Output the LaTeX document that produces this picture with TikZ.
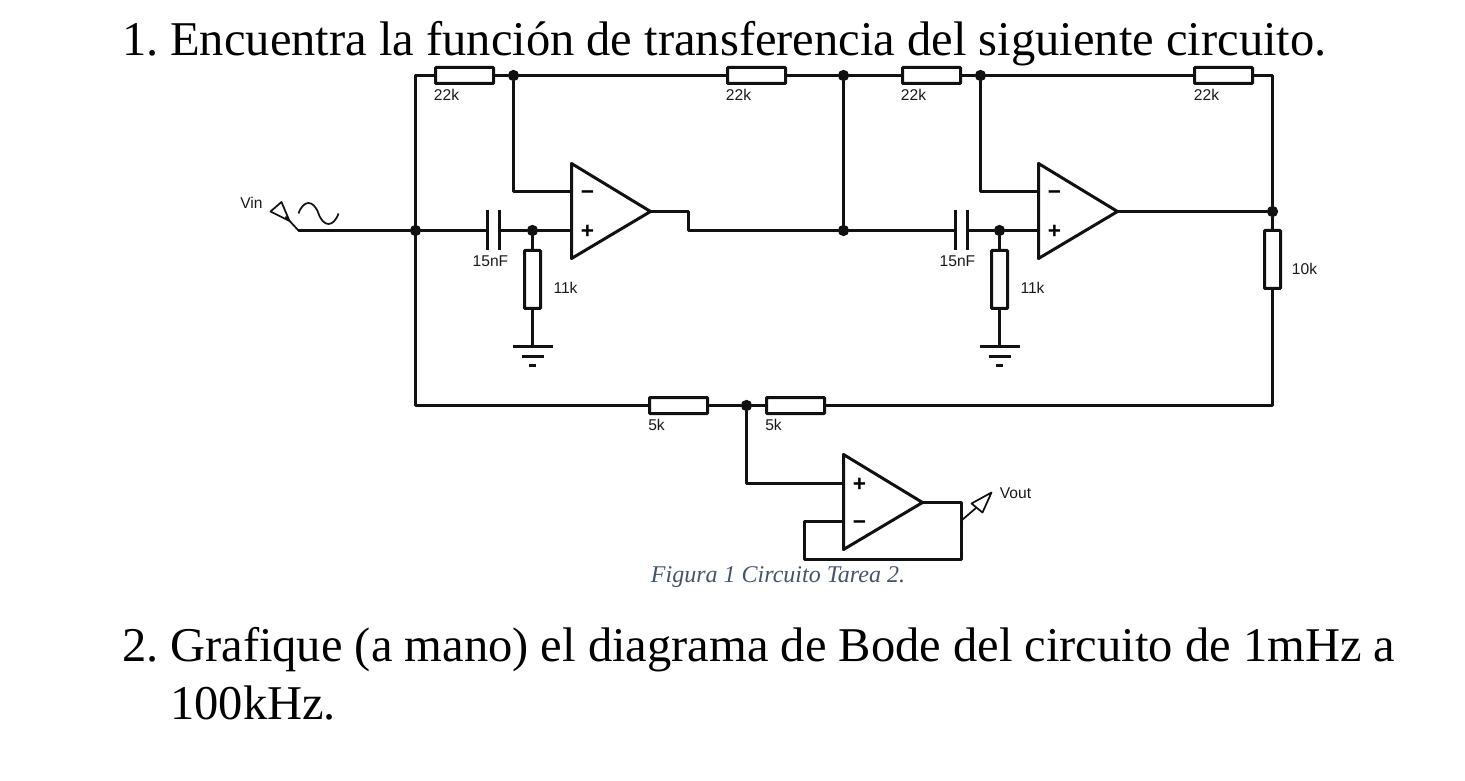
\documentclass[tikz,border=0pt]{standalone}
\usepackage{fontspec}
\setmainfont{Liberation Serif}
\newfontfamily\lab{Liberation Sans}
\definecolor{capcol}{HTML}{44546A}
\definecolor{wirecol}{HTML}{111111}
\tikzset{
  wire/.style={draw=wirecol,line width=2.25pt,line join=round,line cap=round},
  outline/.style={draw=wirecol,line width=2.25pt,line join=round},
  thinwire/.style={draw=wirecol,line width=1.3pt,line join=round},
  resh/.style={draw=wirecol,line width=2.25pt,fill=white,rounded corners=0.5pt,minimum width=43.5pt,minimum height=12pt,inner sep=0pt,outer sep=0pt},
  resv/.style={draw=wirecol,line width=2.25pt,fill=white,rounded corners=0.5pt,minimum width=12pt,minimum height=43.5pt,inner sep=0pt,outer sep=0pt},
  jct/.style={circle,fill=wirecol,minimum size=8.5pt,inner sep=0pt,outer sep=0pt},
  val/.style={font=\lab\fontsize{11.7pt}{13pt}\selectfont,text=black!90,inner sep=0pt},
  sign/.style={font=\lab\bfseries\fontsize{17pt}{18pt}\selectfont,inner sep=0pt},
  head/.style={anchor=base west,inner sep=0pt,font=\fontsize{36.4pt}{40pt}\selectfont,text=black},
  figcaption/.style={inner sep=0pt,font=\itshape\fontsize{18pt}{20pt}\selectfont,text=capcol},
}
\newcommand{\opampat}[3]{% name, left x, mid y
  \coordinate (#1t) at (#2,#3-48);
  \coordinate (#1b) at (#2,#3+47);
  \coordinate (#1o) at (#2+79,#3);
  \draw[outline] (#1t) -- (#1o) -- (#1b) -- cycle;
}
\newcommand{\gndat}[3]{% name, x, y
  \coordinate (#1) at (#2,#3);
  \draw[wire,line cap=butt] (#2-20,#3) -- (#2+20,#3);
  \draw[wire,line cap=butt] (#2-11,#3+10) -- (#2+11,#3+10);
  \draw[wire,line cap=butt] (#2-3.5,#3+19) -- (#2+3.5,#3+19);
}
\begin{document}
\begin{tikzpicture}[x=0.75pt,y=-0.75pt]
\useasboundingbox (0,0) rectangle (1465,781);
% text
\node[head] (l1) at (122,56) {\makebox[36pt][l]{1.}Encuentra la función de transferencia del siguiente circuito.};
\node[head] (l2) at (122,661) {\makebox[36pt][l]{2.}Grafique (a mano) el diagrama de Bode del circuito de 1mHz a};
\node[head] (l3) at (170,719) {100kHz.};
\node[figcaption] (figcap) at (778,577) {Figura 1 Circuito Tarea 2.};
\begin{scope}[shift={(0.5,0.5)}]
% corners and pins
\coordinate (tl) at (415,75);
\coordinate (tr) at (1272,75);
\coordinate (bl) at (415,405);
\coordinate (br) at (1272,405);
\coordinate (vinend) at (298,230);
\coordinate (s1) at (688,211);
\coordinate (s2) at (688,230);
\coordinate (in1m) at (571,191);
\coordinate (in1p) at (571,230);
\coordinate (in2m) at (1038,191);
\coordinate (in2p) at (1038,230);
\coordinate (in3p) at (843,483);
\coordinate (in3m) at (843,521);
\coordinate (k1) at (513,191);
\coordinate (k2) at (980,191);
\coordinate (k3) at (746,483);
\coordinate (b1) at (961,502);
\coordinate (b2) at (961,559);
\coordinate (b3) at (804,559);
\coordinate (b4) at (804,521);
\coordinate (c1) at (493,230);
\coordinate (c2) at (961,230);
\coordinate (voutb) at (961,520);
\coordinate (voutt) at (976,507);
\gndat{g1}{532}{346}
\gndat{g2}{999}{346}
\opampat{a}{571}{211}
\opampat{b}{1038}{211}
\opampat{c}{843}{502}
% junctions
\node[jct] (j1) at (513,75) {};
\node[jct] (j2) at (843,75) {};
\node[jct] (j3) at (980,75) {};
\node[jct] (j4) at (415,230) {};
\node[jct] (j5) at (532,230) {};
\node[jct] (j6) at (843,230) {};
\node[jct] (j7) at (999,230) {};
\node[jct] (j8) at (1272,211) {};
\node[jct] (j9) at (746,405) {};
% wires
\draw[wire] (vinend) -- (j4) -- (c1) -- (j5) -- (in1p);
\draw[wire] (ao) -- (s1) -- (s2) -- (j6) -- (c2) -- (j7) -- (in2p);
\draw[wire] (bo) -- (j8);
\draw[wire] (tl) -- (j1) -- (j2) -- (j3) -- (tr) -- (j8) -- (br) -- (j9) -- (bl) -- (tl);
\draw[wire] (j1) -- (k1) -- (in1m);
\draw[wire] (j3) -- (k2) -- (in2m);
\draw[wire] (j2) -- (j6);
\draw[wire] (j5) -- (g1);
\draw[wire] (j7) -- (g2);
\draw[wire] (j9) -- (k3) -- (in3p);
\draw[wire] (co) -- (b1) -- (b2) -- (b3) -- (b4) -- (in3m);
% resistors
\node[resh] (r1) at (464,75) {};
\node[resh] (r2) at (756,75) {};
\node[resh] (r3) at (931,75) {};
\node[resh] (r4) at (1223,75) {};
\node[resv] (r5) at (532,279) {};
\node[resv] (r6) at (999,279) {};
\node[resv] (r7) at (1272,259) {};
\node[resh] (r8) at (678,405) {};
\node[resh] (r9) at (795,405) {};
% capacitors
\fill[white] (488.5,205) rectangle (497.5,255);
\fill[white] (956.5,205) rectangle (965.5,255);
\draw[wire,line cap=butt] (487,210) -- (487,250) (499,210) -- (499,250);
\draw[wire,line cap=butt] (955,210) -- (955,250) (967,210) -- (967,250);
% source
\draw[thinwire] (270,211) -- (281,201.5) -- (289,220.5) -- cycle;
\draw[thinwire] (285,216) -- (vinend);
\draw[thinwire] (298,213) .. controls (303,199) and (313,199) .. (318,213) .. controls (323,227) and (333,227) .. (338,213);
% output probe
\draw[thinwire] (991,492) -- (971,503) -- (982,512) -- cycle;
\draw[thinwire] (voutb) -- (voutt);
% signs
\node[sign] (sa1) at (587,195) {−};
\node[sign] (sa2) at (587,231) {+};
\node[sign] (sb1) at (1054,195) {−};
\node[sign] (sb2) at (1054,231) {+};
\node[sign] (sc1) at (859,525) {−};
\node[sign] (sc2) at (859,484) {+};
% values
\node[val] (v1) at (446,94) {22k};
\node[val] (v2) at (738,94) {22k};
\node[val] (v3) at (913,94) {22k};
\node[val] (v4) at (1206,94) {22k};
\node[val] (v5) at (490,261) {15nF};
\node[val] (v6) at (957,261) {15nF};
\node[val] (v7) at (565,287) {11k};
\node[val] (v8) at (1032,287) {11k};
\node[val] (v9) at (1304,268) {10k};
\node[val] (v10) at (656,424) {5k};
\node[val] (v11) at (773,424) {5k};
\node[val] (v12) at (251,202) {Vin};
\node[val] (v13) at (1015,493) {Vout};
\end{scope}
\end{tikzpicture}
\end{document}
